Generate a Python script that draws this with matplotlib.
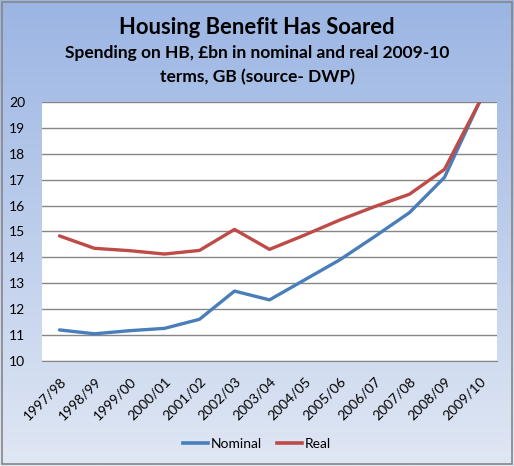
import numpy as np
import matplotlib
matplotlib.use("Agg")
import matplotlib.pyplot as plt
from matplotlib.lines import Line2D

years = ["1997/98", "1998/99", "1999/00", "2000/01", "2001/02", "2002/03", "2003/04",
         "2004/05", "2005/06", "2006/07", "2007/08", "2008/09", "2009/10"]
nominal = [11.2, 11.05, 11.17, 11.26, 11.61, 12.70, 12.36, 13.13, 13.90, 14.80, 15.73, 17.09, 20.0]
real = [14.83, 14.35, 14.26, 14.13, 14.27, 15.08, 14.31, 14.86, 15.44, 15.96, 16.44, 17.40, 20.0]

plt.rcParams['font.family'] = ['Lato', 'DejaVu Sans']

W, H = 514, 466
fig = plt.figure(figsize=(W/100, H/100), dpi=100)

# background gradient
bg = fig.add_axes([0, 0, 1, 1], zorder=-10)
top = np.array([155, 181, 227]) / 255
bot = np.array([224, 231, 244]) / 255
t = np.linspace(0, 1, 256)[:, None]
grad = top[None, :] * (1 - t) + bot[None, :] * t
img = np.repeat(grad[:, None, :], 2, axis=1)
bg.imshow(img, aspect='auto', extent=[0, 1, 0, 1], origin='upper')
bg.set_xlim(0, 1); bg.set_ylim(0, 1)
bg.axis('off')
bg.add_patch(plt.Rectangle((2/W, 2/H), 1 - 4/W, 1 - 4/H, fill=False,
                           edgecolor='#868686', linewidth=1.2, transform=bg.transAxes))

# plot area: x 42..497, y 102..361
l, r, tp, b = 42, 497, 102, 361
ax = fig.add_axes([l/W, 1 - b/H, (r - l)/W, (b - tp)/H])
ax.set_facecolor('white')
x = np.arange(len(years))
ax.plot(x, nominal, color='#4A7EBB', linewidth=2.4, label='Nominal', solid_capstyle='round')
ax.plot(x, real, color='#BE4B48', linewidth=2.4, label='Real', solid_capstyle='round')
ax.set_xlim(-0.5, len(years) - 0.5)
ax.set_ylim(10, 20)
ax.set_yticks(range(10, 21))
ax.yaxis.grid(True, color='#868686', linewidth=1.0)
ax.set_axisbelow(True)
for s in ['top', 'right', 'left']:
    ax.spines[s].set_visible(False)
ax.spines['bottom'].set_color('#868686')
ax.tick_params(axis='both', length=0, labelsize=10, colors='black')
ax.tick_params(axis='y', pad=12)
ax.set_xticks(x)
ax.set_xticklabels(years, rotation=45, ha='right', rotation_mode='anchor')
ax.tick_params(axis='x', pad=10)

fig.text(0.5, 1 - 27/H, "Housing Benefit Has Soared", ha='center', va='center',
         fontsize=15.8, fontweight='bold')
fig.text(0.5, 1 - 53/H, "Spending on HB, \u00a3bn in nominal and real 2009-10", ha='center',
         va='center', fontsize=12.5, fontweight='bold')
fig.text(0.5, 1 - 77/H, "terms, GB (source- DWP)", ha='center', va='center',
         fontsize=12.5, fontweight='bold')

handles = [Line2D([], [], color='#4A7EBB', linewidth=2.6),
           Line2D([], [], color='#BE4B48', linewidth=2.6)]
fig.legend(handles, ['Nominal', 'Real'], loc='center', bbox_to_anchor=(0.5, 1 - 444/H),
           ncol=2, frameon=False, fontsize=10, handlelength=1.8, handletextpad=0.2,
           columnspacing=1.1)

fig.savefig('out.png', dpi=100)
